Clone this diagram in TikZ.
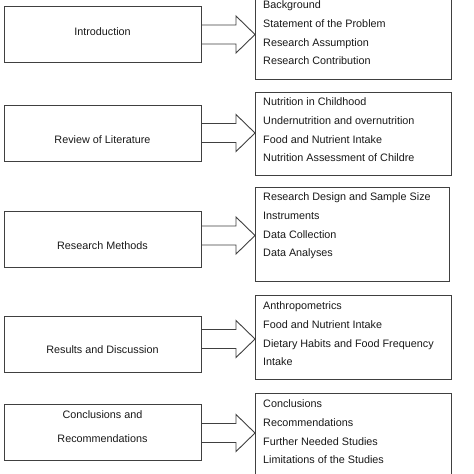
\documentclass[tikz,border=0pt]{standalone}
\usepackage{fontspec}
\setmainfont{Liberation Sans}
\usetikzlibrary{calc}
\newcommand{\blkarrow}[2]{%
  \draw[arr] ($(#1.east |- #2)+(0,-9.5)$) -- ($(#2)+(-19,-9.5)$) -- ($(#2)+(-19,-18.5)$) -- (#2)
    -- ($(#2)+(-19,18.5)$) -- ($(#2)+(-19,9.5)$) -- ($(#1.east |- #2)+(0,9.5)$);}
\begin{document}
\begin{tikzpicture}[x=1pt,y=-1pt,
  box/.style={draw=black!75, line width=0.9pt, minimum width=197pt, minimum height=56pt, anchor=north west, inner sep=0pt},
  rbox/.style={draw=black!75, line width=0.9pt, anchor=north west, inner sep=0pt, minimum width=196pt},
  lab/.style={font=\fontsize{10.8}{13}\selectfont, text=black!90, inner sep=0pt},
  item/.style={lab, anchor=base west},
  arr/.style={draw=black!75, line width=0.9pt, line join=miter}]
\useasboundingbox (0,0) rectangle (474,474);
\clip (0,0) rectangle (474,474);
\fill[white] (0,0) rectangle (474,474);
% left boxes
\node[box] (L1) at (4,6) {};
\node[box] (L2) at (4,105) {};
\node[box] (L3) at (4,211) {};
\node[box] (L4) at (4,316) {};
\node[box] (L5) at (4,404) {};
\node[lab] (l1) at (102.5,32) {Introduction};
\node[lab] (l2) at (102.5,140) {Review of Literature};
\node[lab] (l3) at (102.5,246) {Research Methods};
\node[lab] (l4) at (102.5,350) {Results and Discussion};
\node[lab, align=center, font=\fontsize{10.8}{24}\selectfont] (l5) at (102.5,427) {Conclusions and\\Recommendations};
% right boxes
\node[rbox, minimum height=84pt] (R1) at (255,-5) {};
\node[rbox, minimum height=83pt] (R2) at (255,92) {};
\node[rbox, minimum height=94pt, minimum width=194pt] (R3) at (255,187) {};
\node[rbox, minimum height=84pt] (R4) at (255,295) {};
\node[rbox, minimum height=84pt] (R5) at (255,393) {};
% items
\foreach \t [count=\i from 0] in {Background,Statement of the Problem,Research Assumption,Research Contribution}
  \node[item] (a\i) at (263,{8.8+18.7*\i}) {\t};
\foreach \t [count=\i from 0] in {Nutrition in Childhood,Undernutrition and overnutrition,Food and Nutrient Intake,Nutrition Assessment of Childre}
  \node[item] (b\i) at (263,{105.8+18.7*\i}) {\t};
\foreach \t [count=\i from 0] in {Research Design and Sample Size,Instruments,Data Collection,Data Analyses}
  \node[item] (c\i) at (263,{200.8+18.7*\i}) {\t};
\foreach \t [count=\i from 0] in {Anthropometrics,Food and Nutrient Intake,Dietary Habits and Food Frequency,Intake}
  \node[item] (d\i) at (263,{309.8+18.7*\i}) {\t};
\foreach \t [count=\i from 0] in {Conclusions,Recommendations,Further Needed Studies,Limitations of the Studies}
  \node[item] (e\i) at (263,{407.8+18.7*\i}) {\t};
% arrows
\coordinate (T1) at (R1.west |- 0,34.5);
\coordinate (T2) at (R2.west |- 0,133);
\coordinate (T3) at (R3.west |- 0,235.5);
\coordinate (T4) at (R4.west |- 0,339);
\coordinate (T5) at (R5.west |- 0,433);
\blkarrow{L1}{T1}
\blkarrow{L2}{T2}
\blkarrow{L3}{T3}
\blkarrow{L4}{T4}
\blkarrow{L5}{T5}
\end{tikzpicture}
\end{document}
